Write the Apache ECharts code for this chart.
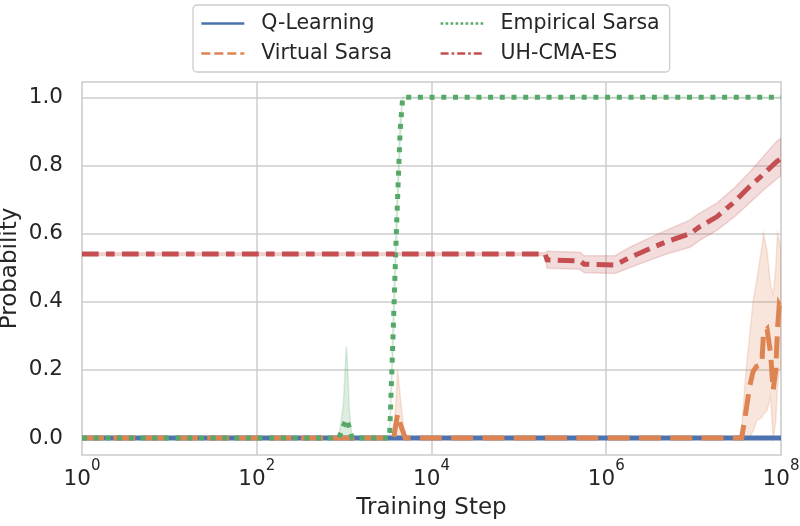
<!DOCTYPE html>
<html>
<head>
<meta charset="utf-8">
<script src="https://cdn.jsdelivr.net/npm/echarts@6/dist/echarts.min.js"></script>
<style>
  html, body { margin: 0; padding: 0; background: #ffffff; }
  #chart { width: 800px; height: 526px; }
</style>
</head>
<body>
<div id="chart"></div>
<script>
// ---------------- data ----------------
const seriesNames = ['Q-Learning', 'Virtual Sarsa', 'Empirical Sarsa', 'UH-CMA-ES'];

const xTickValues = [1, 1e2, 1e4, 1e6, 1e8];
const yTickValues = [0, 0.2, 0.4, 0.6, 0.8, 1.0];

const qlSteps = [1, 1e2, 1e4, 1e6, 1e8];
const qlMean  = [0, 0, 0, 0, 0];
const qlLow   = [0, 0, 0, 0, 0];
const qlHigh  = [0, 0, 0, 0, 0];

const vsSteps = [1, 3700, 3900, 4100, 4400, 4700, 5000, 3.31e7, 3.55e7, 3.98e7, 4.37e7, 4.79e7, 5.25e7, 6.03e7, 6.31e7, 6.92e7, 7.59e7, 8.13e7, 8.71e7, 9.12e7, 9.55e7, 1e8];
const vsMean  = [0, 0, 0.04, 0.07, 0.04, 0.02, 0, 0, 0, 0.08, 0.15, 0.195, 0.21, 0.215, 0.31, 0.32, 0.25, 0.14, 0.2, 0.32, 0.39, 0.38];
const vsLow   = [0, 0, 0, 0, 0, 0, 0, 0, 0, 0, 0, 0.02, 0.05, 0.06, 0.07, 0.08, 0.12, 0, 0.05, 0.15, 0.2, 0.2];
const vsHigh  = [0, 0, 0.1, 0.2, 0.12, 0.05, 0, 0, 0.03, 0.2, 0.3, 0.4, 0.46, 0.56, 0.6, 0.55, 0.45, 0.42, 0.5, 0.6, 0.58, 0.55];

const esSteps = [1, 870, 980, 1060, 1100, 1150, 1230, 3310, 3630, 3980, 4370, 4680, 1e6, 1e8];
const esMean  = [0, 0, 0.035, 0.055, 0.06, 0.03, 0, 0, 0.3, 0.62, 0.9, 1, 1, 1];
const esLow   = [0, 0, 0, 0, 0, 0, 0, 0, 0.26, 0.58, 0.87, 1, 1, 1];
const esHigh  = [0, 0, 0.1, 0.27, 0.2, 0.08, 0, 0, 0.34, 0.66, 0.93, 1, 1, 1];

const uhSteps = [1, 2.0e5, 2.1e5, 5.0e5, 5.6e5, 1.26e6, 1.86e6, 3.16e6, 4.9e6, 9.1e6, 1.17e7, 1.86e7, 2.95e7, 4.37e7, 6.46e7, 8.9e7, 1e8];
const uhMean  = [0.54, 0.54, 0.523, 0.52, 0.51, 0.508, 0.53, 0.556, 0.576, 0.6, 0.62, 0.65, 0.694, 0.738, 0.777, 0.811, 0.82];
const uhLow   = [0.536, 0.536, 0.498, 0.495, 0.485, 0.483, 0.5, 0.522, 0.54, 0.56, 0.58, 0.61, 0.65, 0.69, 0.73, 0.76, 0.77];
const uhHigh  = [0.544, 0.544, 0.548, 0.545, 0.535, 0.535, 0.56, 0.588, 0.61, 0.64, 0.66, 0.69, 0.735, 0.78, 0.83, 0.87, 0.88];

// ---------------- styles ----------------
const FONT = 'DejaVu Sans';
const TEXT = '#262626';
const GRIDC = '#cccccc';
const colors = { ql: '#4C72B0', vs: '#DD8452', es: '#55A868', uh: '#C44E52' };
const bandColors = {
  ql: 'rgba(76,114,176,0.2)', vs: 'rgba(221,132,82,0.2)',
  es: 'rgba(85,168,104,0.2)', uh: 'rgba(196,78,82,0.2)'
};
const dash = {
  ql: 'solid', vs: [22, 9.3], es: [5, 6.7], uh: [16.7, 7.3, 8.7, 7.3]
};
const legendDash = {
  ql: 'solid', vs: [9, 4], es: [2.6, 2.4], uh: [8, 3, 2.6, 3]
};

function zip(xs, ys) { return xs.map((x, i) => [x, ys[i]]); }

function bandSeries(steps, low, high, fill) {
  return {
    type: 'custom',
    silent: true,
    animation: false,
    clip: true,
    z: 2,
    encode: { x: 0, y: [1, 2] },
    data: steps.map((s, i) => [s, low[i], high[i]]),
    renderItem: function (params, api) {
      if (params.dataIndexInside !== 0) return null;
      const n = params.dataInsideLength;
      const top = [], bot = [];
      for (let i = 0; i < n; i++) {
        top.push(api.coord([api.value(0, i), api.value(2, i)]));
        bot.push(api.coord([api.value(0, i), api.value(1, i)]));
      }
      return {
        type: 'polygon',
        shape: { points: top.concat(bot.reverse()) },
        style: { fill: fill, stroke: fill, lineWidth: 1.5 }
      };
    }
  };
}

function lineSeries(name, steps, mean, color, type) {
  return {
    type: 'line',
    name: name,
    z: 2,
    data: zip(steps, mean),
    showSymbol: false,
    symbol: 'none',
    silent: true,
    animation: false,
    color: color,
    lineStyle: { color: color, width: 5, type: type, cap: 'butt', join: 'miter' }
  };
}

const gridLines = [];
yTickValues.forEach(v => gridLines.push({ yAxis: v }));
xTickValues.slice(1, -1).forEach(v => gridLines.push({ xAxis: v }));

const chart = echarts.init(document.getElementById('chart'), null, { renderer: 'canvas' });

const option = {
  backgroundColor: '#ffffff',
  animation: false,
  textStyle: { fontFamily: FONT, color: TEXT },
  grid: {
    left: 82, right: 19, top: 82, bottom: 71,
    show: true, borderColor: GRIDC, borderWidth: 1.6,
    backgroundColor: 'transparent',
    containLabel: false, outerBoundsMode: 'none'
  },
  legend: {
    left: 193, top: 5, width: 560,
    orient: 'horizontal',
    selectedMode: false,
    itemGap: 9, itemWidth: 43, itemHeight: 14,
    padding: [8, 10, 8, 7],
    borderColor: GRIDC, borderWidth: 1.3, borderRadius: 4,
    backgroundColor: 'rgba(255,255,255,0.8)',
    textStyle: { fontFamily: FONT, fontSize: 20.5, color: TEXT, lineHeight: 21, padding: [0, 0, 0, 12] },
    itemStyle: { opacity: 0 },
    data: [
      { name: 'Q-Learning', textStyle: { width: 169 }, lineStyle: { width: 2.6, type: legendDash.ql } },
      { name: 'Empirical Sarsa', lineStyle: { width: 2.6, type: legendDash.es } },
      { name: 'Virtual Sarsa', textStyle: { width: 169 }, lineStyle: { width: 2.6, type: legendDash.vs } },
      { name: 'UH-CMA-ES', lineStyle: { width: 2.6, type: legendDash.uh } }
    ]
  },
  xAxis: {
    type: 'log', logBase: 10, min: 1, max: 1e8,
    name: 'Training Step', nameLocation: 'middle', nameGap: 42, nameMoveOverlap: false,
    nameTextStyle: { fontFamily: FONT, fontSize: 23, color: TEXT },
    axisLine: { show: false }, axisTick: { show: false, customValues: xTickValues },
    splitLine: { show: false }, minorTick: { show: false }, minorSplitLine: { show: false },
    axisLabel: {
      customValues: xTickValues,
      margin: 4,
      formatter: function (v) {
        const e = Math.round(Math.log10(v));
        return '{b|10}{s|' + e + '}';
      },
      rich: {
        b: { fontFamily: FONT, fontSize: 21.5, color: TEXT, lineHeight: 31, verticalAlign: 'bottom' },
        s: { fontFamily: FONT, fontSize: 15, color: TEXT, lineHeight: 15, verticalAlign: 'top' }
      }
    }
  },
  yAxis: {
    type: 'value', min: -0.05, max: 1.045,
    name: 'Probability', nameLocation: 'middle', nameGap: 60, nameMoveOverlap: false,
    nameTextStyle: { fontFamily: FONT, fontSize: 23, color: TEXT },
    axisLine: { show: false }, axisTick: { show: false, customValues: yTickValues },
    splitLine: { show: false },
    axisLabel: {
      customValues: yTickValues,
      margin: 19,
      fontFamily: FONT, fontSize: 21.5, color: TEXT,
      formatter: v => v.toFixed(1)
    }
  },
  series: [
    {
      type: 'line', data: [[1, 0]], silent: true, animation: false, z: 1,
      showSymbol: false, symbol: 'none', lineStyle: { opacity: 0 },
      markLine: {
        z: 1, zlevel: 0,
        silent: true, animation: false, symbol: 'none',
        label: { show: false },
        lineStyle: { color: GRIDC, width: 1.5, type: 'solid' },
        data: gridLines
      }
    },
    bandSeries(qlSteps, qlLow, qlHigh, bandColors.ql),
    lineSeries('Q-Learning', qlSteps, qlMean, colors.ql, dash.ql),
    bandSeries(vsSteps, vsLow, vsHigh, bandColors.vs),
    lineSeries('Virtual Sarsa', vsSteps, vsMean, colors.vs, dash.vs),
    bandSeries(esSteps, esLow, esHigh, bandColors.es),
    lineSeries('Empirical Sarsa', esSteps, esMean, colors.es, dash.es),
    bandSeries(uhSteps, uhLow, uhHigh, bandColors.uh),
    lineSeries('UH-CMA-ES', uhSteps, uhMean, colors.uh, dash.uh)
  ]
};

chart.setOption(option);
</script>
</body>
</html>
